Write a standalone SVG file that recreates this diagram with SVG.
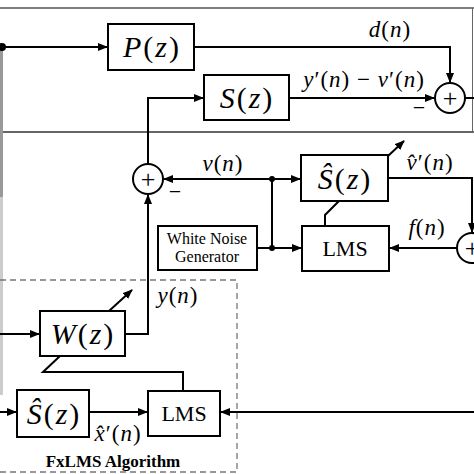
<svg xmlns="http://www.w3.org/2000/svg" width="474" height="474" viewBox="0 0 474 474">
<style>
.box{fill:#fff;stroke:#000;stroke-width:2}
.sum{fill:#fff;stroke:#000;stroke-width:2}
.ln{fill:none;stroke:#000;stroke-width:2}
.m{font-family:"Liberation Serif",serif;font-style:italic;font-size:30px;letter-spacing:2px;fill:#000}
.lab{font-family:"Liberation Serif",serif;font-style:italic;font-size:23px;letter-spacing:1px;fill:#000}
.up{font-style:normal}
.rm{font-family:"Liberation Serif",serif;font-size:22px;fill:#000}
.sm{font-family:"Liberation Serif",serif;font-size:16px;fill:#000}
.bd{font-family:"Liberation Serif",serif;font-size:17px;font-weight:bold;fill:#000}
.plus{font-family:"Liberation Serif",serif;font-size:26px;fill:#000}
</style>
<defs>
<marker id="ah" markerWidth="10" markerHeight="8" refX="9" refY="4" orient="auto" markerUnits="userSpaceOnUse">
<path d="M0,0 L10,4 L0,8 Z" fill="#000"/>
</marker>
</defs>
<rect width="474" height="474" fill="#fff"/>
<g id="frame">
<line x1="0" y1="8" x2="474" y2="8" stroke="#555" stroke-width="1.5"/>
<line x1="0" y1="132" x2="474" y2="132" stroke="#333" stroke-width="1.5"/>
<line x1="472.5" y1="8" x2="472.5" y2="132" stroke="#666" stroke-width="1"/>
<rect x="0" y="47" width="3" height="150" fill="#999"/>
<rect x="0" y="197" width="3" height="198" fill="#ccc"/>
</g>
<g id="fxlms-region">
<path d="M0,280 H237 V472 H0" fill="none" stroke="#777" stroke-width="1.3" stroke-dasharray="6,4"/>
<text class="bd" x="113" y="467" text-anchor="middle">FxLMS Algorithm</text>
</g>
<g id="connectors">
<circle cx="2" cy="47" r="4" fill="#000"/>
<line class="ln" x1="2" y1="47" x2="107" y2="47" marker-end="url(#ah)"/>
<polyline class="ln" points="194,47 450,47 450,82" marker-end="url(#ah)"/>
<polyline class="ln" points="148,164 148,98 203,98" marker-end="url(#ah)"/>
<line class="ln" x1="289" y1="98" x2="434" y2="98" marker-end="url(#ah)"/>
<line class="ln" x1="465" y1="98" x2="474" y2="98"/>
<line class="ln" x1="272" y1="179" x2="300" y2="179" marker-end="url(#ah)"/>
<line class="ln" x1="272" y1="179" x2="164" y2="179" marker-end="url(#ah)"/>
<circle cx="272" cy="179" r="3" fill="#000"/>
<line class="ln" x1="272" y1="179" x2="272" y2="248"/>
<circle cx="272" cy="248" r="3" fill="#000"/>
<line class="ln" x1="257" y1="248" x2="301" y2="248" marker-end="url(#ah)"/>
<polyline class="ln" points="388,178 472,178 472,232" marker-end="url(#ah)"/>
<line class="ln" x1="457" y1="248" x2="390" y2="248" marker-end="url(#ah)"/>
<polyline class="ln" points="339,201 325,215 325,226"/>
<line class="ln" x1="388" y1="156" x2="404" y2="141" marker-end="url(#ah)"/>
<line class="ln" x1="0" y1="334" x2="39" y2="334" marker-end="url(#ah)"/>
<polyline class="ln" points="125,334 148,334 148,195" marker-end="url(#ah)"/>
<line class="ln" x1="109" y1="311" x2="132" y2="290" marker-end="url(#ah)"/>
<polyline class="ln" points="60,356 43,372 183,372 183,391"/>
<line class="ln" x1="0" y1="412" x2="16" y2="412" marker-end="url(#ah)"/>
<line class="ln" x1="89" y1="412" x2="147" y2="412" marker-end="url(#ah)"/>
<line class="ln" x1="474" y1="412" x2="221" y2="412" marker-end="url(#ah)"/>
</g>
<g id="P">
<rect class="box" x="108" y="24" width="86" height="46"/>
<text class="m" x="152" y="57" text-anchor="middle">P<tspan class="up">(</tspan>z<tspan class="up">)</tspan></text>
</g>
<g id="S">
<rect class="box" x="204" y="75" width="85" height="45"/>
<text class="m" x="247" y="108" text-anchor="middle">S<tspan class="up">(</tspan>z<tspan class="up">)</tspan></text>
</g>
<g id="sum-top">
<circle class="sum" cx="450" cy="98" r="15"/>
<text class="plus" x="450" y="107" text-anchor="middle">+</text>
</g>
<g id="sum-mid">
<circle class="sum" cx="148" cy="179" r="15"/>
<text class="plus" x="148" y="188" text-anchor="middle">+</text>
</g>
<g id="sum-right">
<circle class="sum" cx="472" cy="248" r="15"/>
<text class="plus" x="472" y="257" text-anchor="middle">+</text>
</g>
<g id="Shat-mid">
<rect class="box" x="301" y="155" width="87" height="46"/>
<text class="m" x="345" y="189" text-anchor="middle">Ŝ<tspan class="up">(</tspan>z<tspan class="up">)</tspan></text>
</g>
<g id="LMS-mid">
<rect class="box" x="302" y="226" width="87" height="45"/>
<text class="rm" x="345" y="256" text-anchor="middle">LMS</text>
</g>
<g id="WNG">
<rect class="box" x="158" y="226" width="99" height="44"/>
<text class="sm" x="207" y="244" text-anchor="middle">White Noise</text>
<text class="sm" x="207" y="262" text-anchor="middle">Generator</text>
</g>
<g id="W">
<rect class="box" x="40" y="311" width="85" height="45"/>
<text class="m" x="83" y="344" text-anchor="middle">W<tspan class="up">(</tspan>z<tspan class="up">)</tspan></text>
</g>
<g id="Shat-bot">
<rect class="box" x="17" y="390" width="72" height="47"/>
<text class="m" x="54" y="424" text-anchor="middle">Ŝ<tspan class="up">(</tspan>z<tspan class="up">)</tspan></text>
</g>
<g id="LMS-bot">
<rect class="box" x="148" y="391" width="72" height="45"/>
<text class="rm" x="184" y="421" text-anchor="middle">LMS</text>
</g>
<g id="labels">
<text class="lab" x="390" y="37" text-anchor="middle">d<tspan class="up">(</tspan>n<tspan class="up">)</tspan></text>
<text class="lab" x="364" y="87" text-anchor="middle">y<tspan class="up">′(</tspan>n<tspan class="up">) − </tspan>v<tspan class="up">′(</tspan>n<tspan class="up">)</tspan></text>
<text class="rm" x="419" y="115" text-anchor="middle">−</text>
<text class="rm" x="175" y="199" text-anchor="middle">−</text>
<text class="lab" x="223" y="171" text-anchor="middle">v<tspan class="up">(</tspan>n<tspan class="up">)</tspan></text>
<text class="lab" x="430" y="170" text-anchor="middle">v̂<tspan class="up">′(</tspan>n<tspan class="up">)</tspan></text>
<text class="lab" x="427" y="235" text-anchor="middle">f<tspan class="up">(</tspan>n<tspan class="up">)</tspan></text>
<text class="lab" x="178" y="303" text-anchor="middle">y<tspan class="up">(</tspan>n<tspan class="up">)</tspan></text>
<text class="lab" x="118" y="441" text-anchor="middle">x̂<tspan class="up">′(</tspan>n<tspan class="up">)</tspan></text>
</g>
</svg>
